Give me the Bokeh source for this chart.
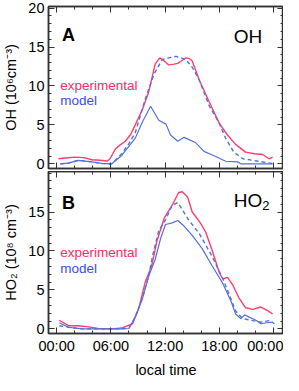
from bokeh.plotting import figure
from bokeh.layouts import column
from bokeh.models import Range1d, FixedTicker, LinearAxis, Label
from bokeh.embed import file_html
from bokeh.resources import INLINE

# ---------------- data ----------------
oh_exp_h = [0.2, 1.0, 2.0, 3.0, 3.9, 4.8, 5.6, 5.9, 6.5, 7.0, 7.6, 8.2, 8.7, 9.5, 10.2, 10.9, 11.4,
            11.9, 12.4, 13.0, 13.4, 13.9, 14.3, 14.7, 15.0, 15.8, 16.9, 18.0, 18.9, 19.8, 20.9,
            21.9, 22.8, 23.5, 23.9]
oh_exp_v = [0.65, 0.75, 0.86, 0.8, 0.53, 0.45, 0.37, 0.65, 1.9, 2.4, 2.9, 3.8, 5.0, 7.0, 9.3, 12.8,
            13.6, 13.2, 12.7, 12.8, 12.9, 13.3, 13.6, 13.5, 13.2, 10.7, 7.9, 5.2, 3.7, 2.5, 1.5,
            1.3, 1.2, 0.65, 0.86]

oh_mod_dash_h = [0.4, 1.3, 2.4, 3.9, 5.0, 6.1, 7.2, 8.0, 8.7, 9.8, 10.8, 11.7, 12.4, 13.2, 14.3,
                 15.0, 15.8, 16.9, 18.0, 18.7, 19.6, 20.6, 22.1, 23.9]
oh_mod_dash_v = [0.0, 0.1, 0.45, 0.25, 0.05, 0.0, 1.3, 2.6, 4.0, 8.3, 11.6, 13.4, 13.6, 13.8, 13.4,
                 12.4, 10.7, 7.4, 5.2, 3.3, 1.5, 0.65, 0.37, 0.04]

oh_mod_h = [0.4, 1.3, 2.4, 3.9, 5.0, 6.1, 7.2, 8.7, 9.5, 10.4, 10.9, 11.3, 12.1, 12.6, 13.4, 14.1,
            15.4, 16.3, 17.6, 18.7, 20.0, 20.4, 23.9]
oh_mod_v = [0.0, 0.1, 0.45, 0.25, 0.05, 0.0, 1.07, 3.3, 5.4, 7.4, 6.4, 5.6, 5.1, 3.7, 2.9, 3.4,
            2.7, 1.6, 0.95, 0.33, 0.25, 0.0, 0.0]

ho2_exp_h = [0.3, 1.3, 2.4, 3.5, 4.6, 6.1, 7.2, 8.4, 9.1, 9.8, 10.5, 11.1, 11.9, 12.8, 13.5, 13.9,
             14.5, 15.0, 15.9, 16.5, 17.2, 18.0, 18.4, 18.9, 19.5, 20.2, 20.9, 21.7, 22.6, 23.4, 23.9]
ho2_exp_v = [1.1, 0.4, 0.4, 0.25, 0.05, 0.0, 0.1, 0.65, 2.7, 6.0, 8.0, 11.3, 14.2, 15.9, 17.5, 17.6,
             16.9, 15.0, 13.6, 12.4, 10.1, 7.2, 6.4, 6.6, 5.6, 3.9, 2.7, 2.5, 2.8, 2.3, 1.9]

ho2_mod_dash_h = [0.3, 1.3, 2.8, 4.2, 7.2, 8.0, 8.7, 9.5, 10.2, 10.6, 11.3, 12.05, 12.8, 13.4, 13.9,
                  14.6, 15.8, 17.2, 18.4, 19.1, 19.8, 20.6, 21.7, 22.6, 23.5, 24.1]
ho2_mod_dash_v = [0.4, 0.2, 0.0, 0.0, 0.0, 0.1, 1.5, 4.0, 6.9, 9.3, 12.6, 14.0, 15.9, 16.2, 15.3,
                  14.0, 12.2, 9.3, 6.4, 4.4, 2.3, 1.3, 1.06, 0.85, 1.06, 0.65]

ho2_mod_h = [0.3, 1.3, 2.8, 4.2, 7.2, 8.0, 8.7, 9.5, 10.2, 10.9, 11.5, 12.05, 12.8, 13.4, 14.1,
             15.0, 16.1, 17.2, 18.4, 19.3, 19.8, 20.4, 20.8, 21.3, 22.1, 22.6, 23.2, 23.9]
ho2_mod_v = [0.78, 0.2, 0.0, 0.0, 0.0, 0.04, 1.5, 3.9, 6.8, 8.9, 11.6, 13.4, 13.6, 13.9, 13.2,
             12.0, 10.3, 8.1, 5.8, 3.5, 1.9, 1.3, 1.8, 1.5, 1.06, 0.65, 0.78, 0.85]

x_ticks = [0, 6, 12, 18, 24]
x_tick_labels = ["00:00", "06:00", "12:00", "18:00", "00:00"]
x_minor = list(range(0, 25, 2))
y_minor = list(range(0, 21))

# ---------------- style ----------------
FONT = "Liberation Sans"
RED_LINE = "#ff3d6e"
RED_TEXT = "#ff2a66"
BLUE_LINE = "#5470e0"
BLUE_TEXT = "#3b4fe0"
AX = "#333333"


def style_axis(ax, ticks, minor, labels=None):
    ax.ticker = FixedTicker(ticks=ticks, minor_ticks=minor)
    ax.axis_line_color = AX
    ax.axis_line_width = 1.5
    ax.major_tick_line_color = AX
    ax.minor_tick_line_color = AX
    ax.major_tick_in = 6
    ax.major_tick_out = 0
    ax.minor_tick_in = 3
    ax.minor_tick_out = 0
    ax.major_label_text_font = FONT
    ax.axis_label_text_font = FONT
    ax.axis_label_text_font_style = "normal"
    ax.axis_label_text_color = "black"
    ax.major_label_text_color = "black"
    if labels is None:
        ax.major_label_overrides = {t: "" for t in ticks}
        ax.major_label_text_font_size = "1px"
        ax.major_label_standoff = 0
    else:
        ax.major_label_overrides = {t: l for t, l in zip(ticks, labels)}
        ax.major_label_text_font_size = "14.5px"
        ax.major_label_standoff = 4


def make_panel(frame_h, min_top, min_bottom, ylabel, yticks, show_x):
    p = figure(frame_width=235, frame_height=frame_h, output_backend="svg", toolbar_location=None,
               x_range=Range1d(-0.9, 25.1), y_range=Range1d(-0.6, 20.2),
               min_border_left=45, min_border_right=0,
               min_border_top=min_top, min_border_bottom=min_bottom)
    p.grid.visible = False
    p.outline_line_color = AX
    p.outline_line_width = 1.5
    p.background_fill_color = "white"
    p.border_fill_color = None
    style_axis(p.below[0], x_ticks, x_minor, labels=x_tick_labels if show_x else None)
    style_axis(p.left[0], yticks, y_minor, labels=[str(t) for t in yticks])
    p.left[0].axis_label = ylabel
    p.left[0].axis_label_text_font_size = "14.5px"
    p.left[0].axis_label_standoff = 6
    top = LinearAxis()
    style_axis(top, x_ticks, x_minor, labels=None)
    p.add_layout(top, "above")
    right = LinearAxis()
    style_axis(right, yticks, y_minor, labels=None)
    p.add_layout(right, "right")
    return p


def add_text(p, x, y, text, size, color="black", bold=False, y_offset=0):
    p.add_layout(Label(x=x, y=y, text=text, text_font=FONT, text_font_size=size,
                       text_color=color, text_font_style="bold" if bold else "normal",
                       text_baseline="alphabetic", text_align="left", y_offset=y_offset))


# ---------------- panel A ----------------
p1 = make_panel(162, 6, 3, "OH (10\u2076cm\u207b\u00b3)", [0, 5, 10, 15, 20], False)
p1.line(oh_exp_h, oh_exp_v, line_color=RED_LINE, line_width=1.4)
p1.line(oh_mod_dash_h, oh_mod_dash_v, line_color=BLUE_LINE, line_width=1.4, line_dash="4 3")
p1.line(oh_mod_h, oh_mod_v, line_color=BLUE_LINE, line_width=1.2)
add_text(p1, 0.6, 16.5, "A", "18px", bold=True)
add_text(p1, 19.6, 16.3, "OH", "19px")
add_text(p1, 0.4, 10.1, "experimental", "13.5px", color=RED_TEXT)
add_text(p1, 0.4, 8.1, "model", "13.5px", color=BLUE_TEXT)

# ---------------- panel B ----------------
p2 = make_panel(162, 0, 40, "HO\u2082 (10\u2078 cm\u207b\u00b3)", [0, 5, 10, 15], True)
p2.below[0].axis_label = "local time"
p2.below[0].axis_label_text_font_size = "14.5px"
p2.below[0].axis_label_standoff = 5
p2.line(ho2_exp_h, ho2_exp_v, line_color=RED_LINE, line_width=1.4)
p2.line(ho2_mod_dash_h, ho2_mod_dash_v, line_color=BLUE_LINE, line_width=1.4, line_dash="4 3")
p2.line(ho2_mod_h, ho2_mod_v, line_color=BLUE_LINE, line_width=1.2)
add_text(p2, 0.6, 16.2, "B", "18px", bold=True)
add_text(p2, 19.6, 16.5, "HO", "19px")
add_text(p2, 22.75, 16.5, "2", "13px", y_offset=-5)
add_text(p2, 0.4, 9.8, "experimental", "13.5px", color=RED_TEXT)
add_text(p2, 0.4, 7.7, "model", "13.5px", color=BLUE_TEXT)

layout = column(p1, p2, spacing=0)
open("out.html", "w").write(file_html(layout, INLINE))
